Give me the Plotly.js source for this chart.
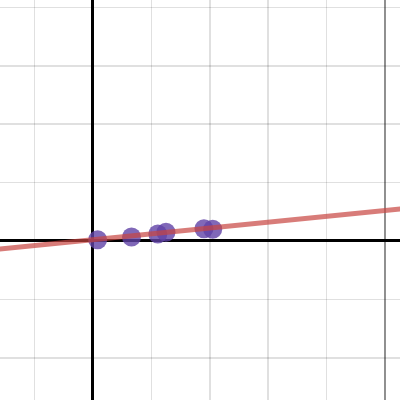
<!DOCTYPE html>
<html>
<head>
<meta charset="utf-8">
<script src="https://cdn.plot.ly/plotly-3.0.1.min.js"></script>
<style>html,body{margin:0;padding:0;background:#fff;}#chart{width:400px;height:400px;}</style>
</head>
<body>
<div id="chart"></div>
<script>
// Data points
var pointX = [0.08, 0.66, 1.11, 1.25, 1.90, 2.05];
var pointY = [0.02, 0.07, 0.12, 0.15, 0.21, 0.20];
// Fitted line endpoints
var lineX = [-1.7, 5.4];
var lineY = [-0.148, 0.562];

var traces = [
  {
    x: pointX, y: pointY, type: 'scatter', mode: 'markers',
    marker: {size: 19, color: '#6042a6', opacity: 0.8},
    hoverinfo: 'skip', showlegend: false
  },
  {
    x: lineX, y: lineY, type: 'scatter', mode: 'lines',
    line: {color: '#c74440', width: 5}, opacity: 0.7,
    hoverinfo: 'skip', showlegend: false
  }
];

var layout = {
  width: 400, height: 400,
  margin: {l: 0, r: 0, t: 0, b: 0, pad: 0},
  paper_bgcolor: '#fff', plot_bgcolor: '#fff',
  showlegend: false,
  xaxis: {
    range: [-1.592, 5.257], tick0: 0, dtick: 1, showticklabels: false, ticks: '',
    showgrid: true, gridcolor: 'rgba(0,0,0,0.12)', gridwidth: 1.6,
    zeroline: true, zerolinecolor: '#000', zerolinewidth: 3, showline: false, fixedrange: true
  },
  yaxis: {
    range: [-2.723, 4.127], tick0: 0, dtick: 1, showticklabels: false, ticks: '',
    showgrid: true, gridcolor: 'rgba(0,0,0,0.12)', gridwidth: 1.6,
    zeroline: true, zerolinecolor: '#000', zerolinewidth: 3, showline: false, fixedrange: true
  },
  shapes: [
    {type: 'line', layer: 'between', xref: 'x', yref: 'paper', x0: 5, x1: 5, y0: 0, y1: 1,
     line: {color: 'rgba(0,0,0,0.4)', width: 1.8}}
  ]
};

Plotly.newPlot('chart', traces, layout, {staticPlot: true, displayModeBar: false});
</script>
</body>
</html>
